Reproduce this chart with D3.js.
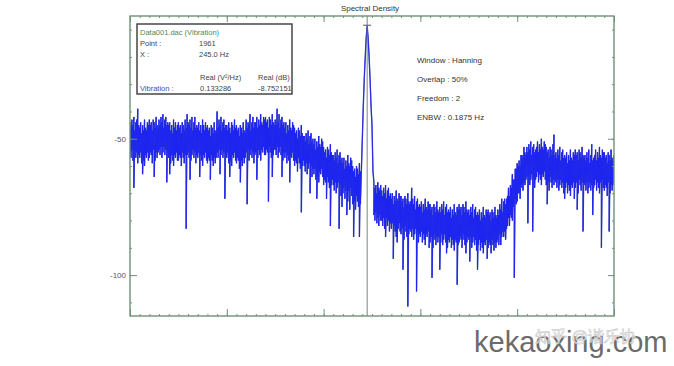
<!DOCTYPE html>
<html>
<head>
<meta charset="utf-8">
<script src="https://cdn.jsdelivr.net/npm/d3@7"></script>
<style>
html,body{margin:0;padding:0;background:#fff;}
svg{display:block;}
text{font-family:"Liberation Sans",Arial,sans-serif;}
</style>
</head>
<body>
<svg id="chart" width="674" height="366"></svg>
<script>
// ---- data ----
const chartTitle = "Spectral Density";
const freqStart = 0;      // Hz
const freqStep = 1;       // Hz per bin
const xDomain = [0, 500];
const yDomain = [-115, -5];
const yLabelTicks = [-100, -50];
const cursorFreq = 245.0;
const cursorDb = -8.752151;
// spectral density (dB): per 1-Hz bin, the highest value of the dense trace
const psdUpperDb = [
 -44,-46,-43,-45,-42,-47,-44,-43,-39,-45,
 -46,-44,-48,-45,-47,-43,-46,-47,-44,-45,
 -43,-45,-44,-47,-43,-44,-46,-42,-45,-46,
 -43,-45,-42,-44,-41,-46,-43,-42,-45,-44,
 -45,-44,-47,-45,-48,-43,-46,-44,-47,-45,
 -44,-46,-45,-48,-44,-45,-47,-43,-46,-41,
 -44,-45,-43,-46,-42,-47,-44,-42,-46,-45,
 -46,-44,-47,-45,-48,-43,-45,-47,-44,-46,
 -45,-47,-46,-49,-45,-46,-48,-44,-47,-48,
 -40,-46,-43,-45,-42,-47,-44,-43,-46,-45,
 -45,-47,-44,-46,-48,-44,-45,-47,-43,-46,
 -45,-47,-46,-49,-45,-46,-48,-44,-47,-48,
 -43,-46,-44,-45,-41,-47,-44,-42,-46,-44,
 -44,-42,-46,-43,-45,-41,-44,-45,-42,-43,
 -42,-44,-43,-46,-42,-43,-45,-41,-44,-45,
 -43,-45,-39,-44,-41,-46,-43,-42,-45,-44,
 -46,-44,-48,-45,-47,-43,-46,-47,-44,-45,
 -46,-48,-47,-50,-46,-47,-49,-45,-48,-49,
 -49,-51,-48,-50,-47,-52,-49,-48,-51,-50,
 -52,-50,-54,-51,-53,-49,-52,-53,-50,-51,
 -53,-55,-54,-57,-53,-54,-56,-52,-55,-56,
 -56,-58,-55,-57,-54,-59,-56,-55,-58,-57,
 -59,-57,-61,-58,-60,-56,-59,-60,-57,-58,
 -60,-62,-61,-64,-60,-61,-63,-59,-62,
 -62,-50,-38,-28,-20,-13,-8.75,-13,-20,-28,-38,-45,-62,
 -66,-68,-67,-70,-66,-68,-69,-67,
 -69,-71,-68,-70,-67,-72,-69,-68,-71,-70,
 -72,-70,-74,-71,-73,-69,-72,-73,-70,-71,
 -71,-73,-72,-75,-71,-72,-74,-70,-73,-74,
 -73,-68,-72,-74,-71,-76,-73,-72,-75,-74,
 -75,-73,-77,-74,-76,-72,-75,-76,-73,-74,
 -74,-76,-75,-78,-74,-75,-77,-73,-76,-77,
 -75,-77,-74,-76,-73,-78,-75,-74,-77,-76,
 -77,-75,-79,-76,-78,-74,-77,-78,-75,-76,
 -74,-76,-75,-78,-74,-75,-77,-73,-76,-77,
 -76,-78,-75,-77,-74,-79,-76,-75,-78,-77,
 -78,-76,-80,-77,-79,-75,-78,-79,-76,-77,
 -76,-78,-77,-80,-76,-77,-79,-75,-78,-79,
 -76,-78,-74,-76,-72,-77,-73,-72,-74,-72,
 -71,-68,-71,-67,-68,-63,-65,-65,-61,-61,
 -59,-60,-58,-60,-56,-56,-57,-53,-55,-56,
 -53,-55,-52,-54,-51,-56,-53,-52,-55,-54,
 -53,-51,-55,-52,-54,-50,-53,-54,-51,-52,
 -53,-55,-54,-57,-53,-54,-56,-52,-48.5,-56,
 -55,-57,-54,-56,-53,-58,-55,-54,-57,-56,
 -57,-55,-59,-56,-58,-54,-57,-58,-55,-56,
 -54,-56,-55,-58,-54,-55,-57,-53,-56,-57,
 -56,-58,-55,-57,-54,-59,-56,-52,-58,-57,
 -56,-54,-58,-55,-57,-53,-56,-57,-54,-55,
 -55,-57,-56,-59,-55,-56,-58,-54,-57,-58,
 -56
];
// ... and the lowest value of the dense trace in the same bin
const psdLowerDb = [
 -55,-57,-54,-58,-68,-54,-57,-55,-59,-56,
 -57,-55,-59,-63,-58,-60,-56,-57,-55,-58,
 -57,-55,-56,-59,-54,-64,-58,-55,-57,-55,
 -54,-56,-53,-57,-55,-53,-56,-54,-66,-55,
 -57,-63,-59,-56,-58,-60,-56,-57,-55,-58,
 -58,-56,-57,-60,-55,-57,-59,-56,-83,-56,
 -55,-57,-65,-58,-56,-54,-57,-55,-59,-56,
 -57,-55,-64,-56,-58,-60,-56,-57,-55,-58,
 -59,-57,-58,-65,-56,-58,-60,-57,-59,-57,
 -55,-57,-54,-63,-56,-54,-57,-55,-72,-56,
 -57,-55,-59,-64,-58,-60,-56,-57,-55,-58,
 -59,-57,-58,-61,-66,-58,-60,-57,-59,-57,
 -55,-74,-54,-58,-56,-54,-57,-55,-59,-56,
 -55,-65,-57,-54,-56,-58,-54,-55,-53,-56,
 -56,-54,-55,-73,-53,-55,-57,-64,-56,-54,
 -54,-56,-53,-57,-55,-53,-56,-64,-58,-55,
 -57,-55,-59,-56,-58,-66,-56,-57,-55,-58,
 -60,-58,-59,-62,-57,-59,-61,-77,-60,-58,
 -60,-62,-59,-63,-61,-59,-70,-60,-64,-61,
 -63,-61,-65,-72,-64,-66,-62,-63,-61,-64,
 -67,-65,-66,-72,-64,-66,-68,-82,-67,-65,
 -67,-69,-66,-70,-68,-66,-83,-67,-71,-75,
 -70,-68,-72,-69,-78,-73,-69,-76,-68,-71,
 -74,-86,-73,-76,-71,-73,-75,-86,-74,
 -62,-50,-38,-28,-20,-13,-8.75,-13,-20,-28,-38,-45,-62,
 -78,-80,-77,-81,-79,-82,-78,-80,
 -80,-82,-79,-83,-86,-79,-82,-80,-84,-81,
 -83,-81,-94,-82,-84,-86,-88,-83,-81,-84,
 -85,-83,-98,-87,-82,-84,-86,-111.5,-85,-83,
 -84,-86,-83,-87,-85,-83,-106,-84,-88,-85,
 -86,-84,-88,-85,-87,-89,-85,-86,-84,-90,
 -88,-86,-101,-90,-85,-87,-89,-86,-88,-86,
 -98,-88,-85,-89,-87,-85,-88,-92,-90,-87,
 -88,-86,-90,-87,-89,-91,-87,-88,-103.5,-89,
 -88,-86,-87,-90,-85,-87,-89,-92,-88,-86,
 -87,-95,-86,-90,-88,-86,-89,-87,-91,-98,
 -89,-87,-91,-88,-90,-92,-88,-89,-87,-94,
 -90,-88,-89,-92,-87,-89,-91,-88,-90,-88,
 -87,-89,-85,-89,-86,-84,-86,-84,-87,-83,
 -82,-79,-82,-78,-79,-80,-75,-101,-72,-74,
 -73,-70,-70,-72,-67,-68,-69,-66,-67,-65,
 -64,-81,-63,-67,-65,-63,-84,-64,-68,-65,
 -64,-62,-66,-63,-65,-67,-63,-64,-62,-65,
 -67,-74,-66,-69,-64,-66,-68,-65,-67,-65,
 -66,-68,-65,-69,-67,-65,-68,-66,-70,-72,
 -68,-66,-70,-67,-69,-71,-67,-68,-66,-72,
 -68,-66,-76,-70,-65,-67,-69,-66,-84,-66,
 -67,-69,-66,-70,-68,-66,-69,-67,-78,-68,
 -67,-65,-69,-66,-68,-70,-66,-90,-65,-68,
 -69,-67,-68,-71,-66,-84,-70,-67,-69,-67,
 -66
];
const infoHeader = "Data001.dac (Vibration)";
const infoRows = [["Point :", "1961"], ["X :", "245.0 Hz"]];
const infoColHeads = ["Real (V²/Hz)", "Real (dB)"];
const infoValues = ["Vibration :", "0.133286", "-8.752151"];
const paramLines = ["Window : Hanning", "Overlap : 50%", "Freedom : 2", "ENBW : 0.1875 Hz"];
const watermark = "kekaoxing.com";
const watermark2 = "知乎 @谐乐协";

// ---- drawing ----
const svg = d3.select("#chart");
const L = 130, R = 614, T = 16, B = 316;
const x = d3.scaleLinear().domain(xDomain).range([L, R]);
const y = d3.scaleLinear().domain(yDomain).range([B, T]);
const frameCol = "#6f9178";

svg.append("text").attr("x", 370).attr("y", 11).attr("text-anchor", "middle")
  .attr("font-size", 8).attr("fill", "#333").text(chartTitle);

svg.append("clipPath").attr("id", "clp").append("rect")
  .attr("x", L).attr("y", T).attr("width", R - L).attr("height", B - T);

// series: the trace swings between each bin's upper and lower value
const pts = [];
psdUpperDb.forEach((u, i) => {
  const f = freqStart + i * freqStep;
  pts.push([f, u]);
  pts.push([f, psdLowerDb[i]]);
});
const line = d3.line().x(d => x(d[0])).y(d => y(d[1]));
svg.append("path").datum(pts).attr("clip-path", "url(#clp)")
  .attr("fill", "none").attr("stroke", "#2c3080").attr("stroke-width", 1.4)
  .attr("stroke-opacity", 0.75).attr("d", line);
svg.append("path").datum(pts).attr("clip-path", "url(#clp)")
  .attr("fill", "none").attr("stroke", "#1c24f2").attr("stroke-width", 0.9)
  .attr("d", line);

// cursor
svg.append("line").attr("x1", x(cursorFreq)).attr("x2", x(cursorFreq))
  .attr("y1", T).attr("y2", B).attr("stroke", "#6a7a70").attr("stroke-width", 0.9);
svg.append("line").attr("x1", x(cursorFreq) - 4).attr("x2", x(cursorFreq) + 4)
  .attr("y1", y(cursorDb) - 1).attr("y2", y(cursorDb) - 1).attr("stroke", "#555").attr("stroke-width", 1);

// axes (ticks inward)
function styleAxis(g) {
  g.select(".domain").remove();
  g.selectAll(".tick line").attr("stroke", frameCol).attr("stroke-width", 1);
  g.selectAll(".tick text").attr("fill", "#555").attr("font-size", 8)
   .attr("font-family", "Liberation Sans, Arial, sans-serif");
}
const minorX = d3.range(xDomain[0], xDomain[1] + 1, 10);
const majorX = d3.range(xDomain[0], xDomain[1] + 1, 100);
const minorY = d3.range(-110, -5, 10);
const majorY = yLabelTicks;

svg.append("g").attr("transform", `translate(0,${B})`)
  .call(d3.axisBottom(x).tickValues(minorX).tickSize(-2).tickFormat("")).call(styleAxis);
svg.append("g").attr("transform", `translate(0,${B})`)
  .call(d3.axisBottom(x).tickValues(majorX).tickSize(-7).tickFormat("")).call(styleAxis);
svg.append("g").attr("transform", `translate(0,${T})`)
  .call(d3.axisTop(x).tickValues(minorX).tickSize(-2).tickFormat("")).call(styleAxis);
svg.append("g").attr("transform", `translate(0,${T})`)
  .call(d3.axisTop(x).tickValues(majorX).tickSize(-6).tickFormat("")).call(styleAxis);
svg.append("g").attr("transform", `translate(${L},0)`)
  .call(d3.axisLeft(y).tickValues(minorY).tickSize(-2).tickFormat("")).call(styleAxis);
svg.append("g").attr("transform", `translate(${L},0)`)
  .call(d3.axisLeft(y).tickValues(majorY).tickSize(-7).tickPadding(4).tickFormat(d => String(d))).call(styleAxis);
svg.append("g").attr("transform", `translate(${R},0)`)
  .call(d3.axisRight(y).tickValues(minorY).tickSize(-2).tickFormat("")).call(styleAxis);
svg.append("g").attr("transform", `translate(${R},0)`)
  .call(d3.axisRight(y).tickValues(majorY).tickSize(-6).tickFormat("")).call(styleAxis);

// frame
svg.append("rect").attr("x", L).attr("y", T).attr("width", R - L).attr("height", B - T)
  .attr("fill", "none").attr("stroke", frameCol).attr("stroke-width", 1.4);

// info box
const box = svg.append("g");
box.append("rect").attr("x", 137).attr("y", 24).attr("width", 155).attr("height", 70)
  .attr("fill", "#fff").attr("stroke", "#3a3a3a").attr("stroke-width", 1.4);
box.append("text").attr("x", 140).attr("y", 35).attr("font-size", 7.5).attr("fill", "#4b8a5c").text(infoHeader);
infoRows.forEach((r, i) => {
  box.append("text").attr("x", 140).attr("y", 46 + i * 10.5).attr("font-size", 7.5).attr("fill", "#444").text(r[0]);
  box.append("text").attr("x", 199).attr("y", 46 + i * 10.5).attr("font-size", 7.5).attr("fill", "#444").text(r[1]);
});
box.append("text").attr("x", 200).attr("y", 80).attr("font-size", 7.5).attr("fill", "#444").text(infoColHeads[0]);
box.append("text").attr("x", 258).attr("y", 80).attr("font-size", 7.5).attr("fill", "#444").text(infoColHeads[1]);
box.append("text").attr("x", 140).attr("y", 91).attr("font-size", 7.5).attr("fill", "#4b4ba8").text(infoValues[0]);
box.append("text").attr("x", 200).attr("y", 91).attr("font-size", 7.5).attr("fill", "#444").text(infoValues[1]);
box.append("text").attr("x", 258).attr("y", 91).attr("font-size", 7.5).attr("fill", "#444").text(infoValues[2]);

// parameter text
paramLines.forEach((t, i) => {
  svg.append("text").attr("x", 417).attr("y", 63 + i * 19).attr("font-size", 8).attr("fill", "#333").text(t);
});

// watermarks
svg.append("text").attr("x", 474).attr("y", 352).attr("font-size", 29).attr("fill", "#6b6b6b")
  .attr("font-family", "Liberation Sans, Arial, sans-serif").text(watermark);
svg.append("text").attr("x", 535).attr("y", 342).attr("font-size", 16).attr("fill", "#fff")
  .attr("stroke", "#c8c8c8").attr("stroke-width", 0.7).attr("opacity", 0.85)
  .attr("font-family", "Noto Sans CJK SC, sans-serif").text(watermark2);
</script>
</body>
</html>
